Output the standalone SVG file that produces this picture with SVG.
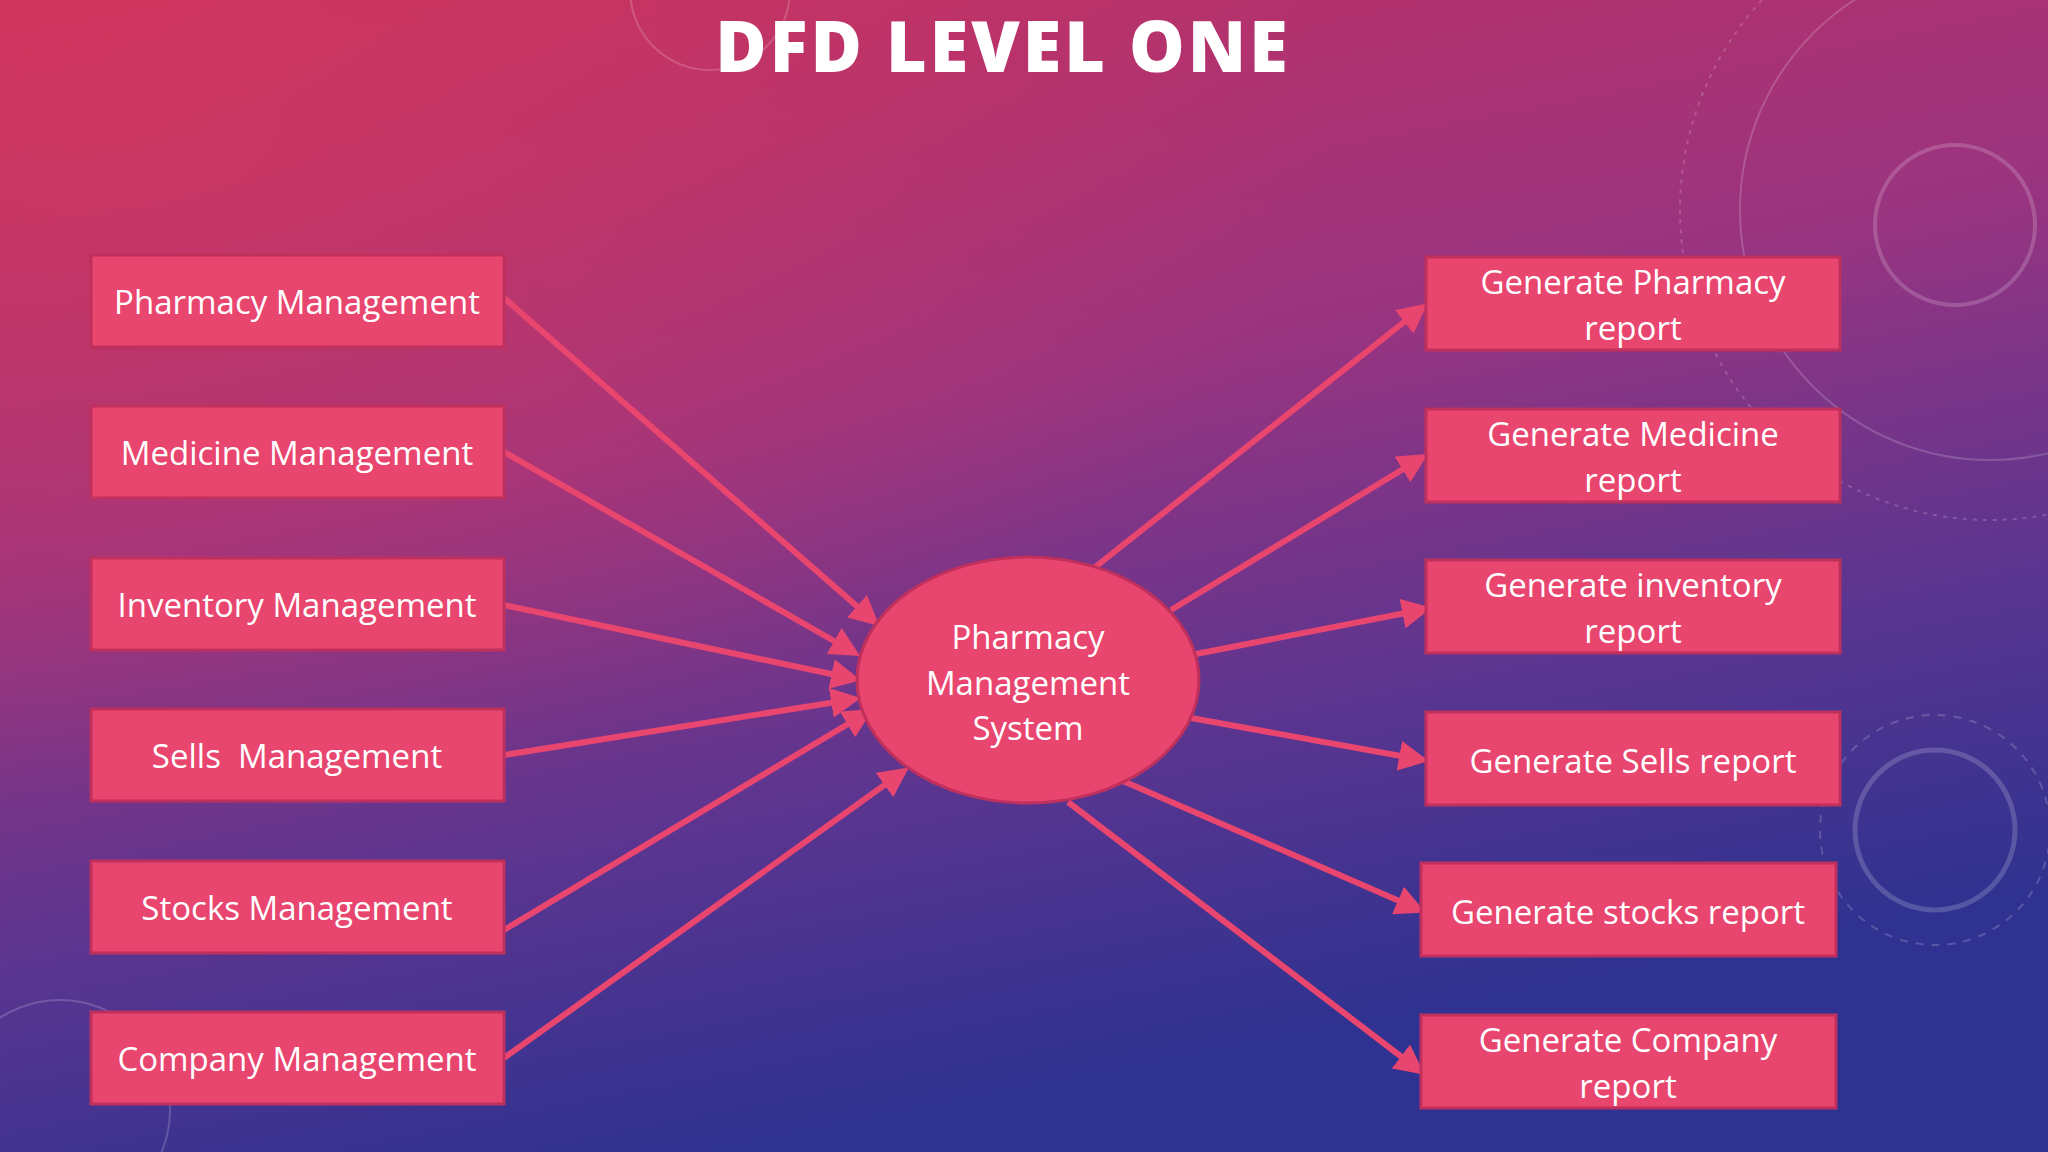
<svg xmlns="http://www.w3.org/2000/svg" width="2048" height="1152" viewBox="0 0 2048 1152">
<defs>
<linearGradient id="bg" x1="0" y1="0" x2="0.35" y2="1">
<stop offset="0" stop-color="#c7305e"/>
<stop offset="0.45" stop-color="#9a3480"/>
<stop offset="0.75" stop-color="#5a3590"/>
<stop offset="1" stop-color="#2f3290"/>
</linearGradient>
<radialGradient id="glow" cx="0.05" cy="0.1" r="0.6">
<stop offset="0" stop-color="#d83a5e" stop-opacity="0.6"/>
<stop offset="1" stop-color="#d83a5e" stop-opacity="0"/>
</radialGradient>
<marker id="ah" markerWidth="5" markerHeight="5" refX="4" refY="2.5" orient="auto" markerUnits="strokeWidth">
<path d="M0,0 L5,2.5 L0,5 Z" fill="#e8456f"/>
</marker>
<style>
.box{fill:#e8456f;stroke:#c0305c;stroke-width:3}
.t{font-family:"Open Sans","Noto Sans",sans-serif;font-size:33px;fill:#fff;text-anchor:middle;dominant-baseline:central}
.c line{stroke:#e8456f;stroke-width:6;marker-end:url(#ah)}
.deco{fill:none;stroke:#fff;stroke-opacity:0.18;stroke-width:2}
</style>
</defs>
<rect width="2048" height="1152" fill="url(#bg)"/>
<rect width="2048" height="1152" fill="url(#glow)"/>
<g class="deco">
<circle cx="1990" cy="210" r="310" stroke-dasharray="4 6"/>
<circle cx="1990" cy="210" r="250"/>
<circle cx="1955" cy="225" r="80" stroke-width="4"/>
<circle cx="1935" cy="830" r="80" stroke-width="5"/>
<circle cx="1935" cy="830" r="115" stroke-dasharray="8 8"/>
<circle cx="60" cy="1110" r="110"/>
<circle cx="710" cy="-10" r="80"/>
</g>
<text x="1003" y="72" font-family="'Open Sans','Liberation Sans',sans-serif" font-weight="800" font-size="70" letter-spacing="3" fill="#fff" text-anchor="middle">DFD LEVEL ONE</text>
<g class="c" id="connectors">
<line x1="504" y1="298" x2="875" y2="622"/>
<line x1="504" y1="452" x2="855" y2="653"/>
<line x1="504" y1="605" x2="855" y2="679"/>
<line x1="504" y1="755" x2="855" y2="699"/>
<line x1="504" y1="930" x2="868" y2="712"/>
<line x1="504" y1="1058" x2="904" y2="771"/>
<line x1="1094" y1="568" x2="1423" y2="307"/>
<line x1="1171" y1="610" x2="1423" y2="457"/>
<line x1="1196" y1="654" x2="1426" y2="609"/>
<line x1="1191" y1="718" x2="1423" y2="760"/>
<line x1="1123" y1="781" x2="1420" y2="910"/>
<line x1="1068" y1="802" x2="1420" y2="1071"/>
</g>
<g id="center"><ellipse cx="1028" cy="680" rx="171" ry="123" fill="#e8456f" stroke="#c0305c" stroke-width="3"/>
<text class="t" x="1028" y="636">Pharmacy</text><text class="t" x="1028" y="682">Management</text><text class="t" x="1028" y="727">System</text></g>
<g id="l1"><rect class="box" x="91" y="255" width="413" height="92"/><text class="t" x="297" y="301">Pharmacy Management</text></g>
<g id="l2"><rect class="box" x="91" y="406" width="413" height="92"/><text class="t" x="297" y="452">Medicine Management</text></g>
<g id="l3"><rect class="box" x="91" y="558" width="413" height="92"/><text class="t" x="297" y="604">Inventory Management</text></g>
<g id="l4"><rect class="box" x="91" y="709" width="413" height="92"/><text class="t" x="297" y="755" xml:space="preserve">Sells  Management</text></g>
<g id="l5"><rect class="box" x="91" y="861" width="413" height="92"/><text class="t" x="297" y="907">Stocks Management</text></g>
<g id="l6"><rect class="box" x="91" y="1012" width="413" height="92"/><text class="t" x="297" y="1058">Company Management</text></g>
<g id="r1"><rect class="box" x="1426" y="257" width="414" height="93"/><text class="t" x="1633" y="281">Generate Pharmacy</text><text class="t" x="1633" y="327">report</text></g>
<g id="r2"><rect class="box" x="1426" y="409" width="414" height="93"/><text class="t" x="1633" y="433">Generate Medicine</text><text class="t" x="1633" y="479">report</text></g>
<g id="r3"><rect class="box" x="1426" y="560" width="414" height="93"/><text class="t" x="1633" y="584">Generate inventory</text><text class="t" x="1633" y="630">report</text></g>
<g id="r4"><rect class="box" x="1426" y="712" width="414" height="93"/><text class="t" x="1633" y="760">Generate Sells report</text></g>
<g id="r5"><rect class="box" x="1421" y="863" width="415" height="93"/><text class="t" x="1628" y="911">Generate stocks report</text></g>
<g id="r6"><rect class="box" x="1421" y="1015" width="415" height="93"/><text class="t" x="1628" y="1039">Generate Company</text><text class="t" x="1628" y="1085">report</text></g>
</svg>
